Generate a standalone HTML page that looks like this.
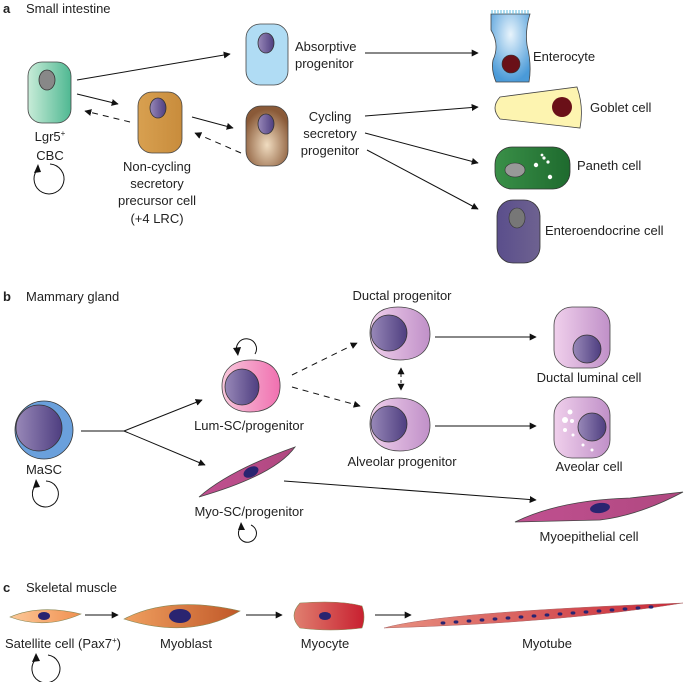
<!DOCTYPE html>
<html><head><meta charset="utf-8"><style>
html,body{margin:0;padding:0;background:#fff;}
svg{display:block;}
text{font-family:"Liberation Sans",sans-serif;font-size:13px;fill:#222;}
</style></head><body>
<svg width="685" height="682" viewBox="0 0 685 682" xmlns="http://www.w3.org/2000/svg">
<defs>
<marker id="ah" viewBox="0 0 10 10" refX="9" refY="5" markerWidth="7" markerHeight="7" orient="auto-start-reverse"><path d="M0,0 L10,5 L0,10 z" fill="#111"/></marker>
<linearGradient id="gGreen" x1="0" x2="1"><stop offset="0" stop-color="#c8ecd8"/><stop offset="1" stop-color="#4fb892"/></linearGradient>
<linearGradient id="gOrange" x1="0" x2="1"><stop offset="0" stop-color="#d8a050"/><stop offset="1" stop-color="#c88c3c"/></linearGradient>
<radialGradient id="gBrown" cx="0.5" cy="0.65" r="0.6"><stop offset="0" stop-color="#f0dcc0"/><stop offset="1" stop-color="#8a5a38"/></radialGradient>
<radialGradient id="gBlue" cx="0.5" cy="0.3" r="0.7"><stop offset="0" stop-color="#e8f4fc"/><stop offset="1" stop-color="#4a9ad8"/></radialGradient>
<linearGradient id="gPaneth" x1="0" x2="1"><stop offset="0" stop-color="#3a9048"/><stop offset="1" stop-color="#1e6a2e"/></linearGradient>
<linearGradient id="gEE" x1="0" x2="1"><stop offset="0" stop-color="#5a4e8c"/><stop offset="1" stop-color="#6e6290"/></linearGradient>
<linearGradient id="gNuc" x1="0" x2="1"><stop offset="0" stop-color="#9888b8"/><stop offset="1" stop-color="#4e3e80"/></linearGradient>
<linearGradient id="gPink" x1="0" x2="1"><stop offset="0" stop-color="#f8c8dc"/><stop offset="1" stop-color="#f070b0"/></linearGradient>
<linearGradient id="gLilac" x1="0" x2="1"><stop offset="0" stop-color="#f0d0ec"/><stop offset="1" stop-color="#c090c8"/></linearGradient>
<linearGradient id="gMyo" x1="0" x2="1"><stop offset="0" stop-color="#c05090"/><stop offset="1" stop-color="#b04880"/></linearGradient>
<linearGradient id="gSat" x1="0" x2="1"><stop offset="0" stop-color="#fcc898"/><stop offset="1" stop-color="#f09050"/></linearGradient>
<linearGradient id="gMb" x1="0" x2="1"><stop offset="0" stop-color="#f0a060"/><stop offset="1" stop-color="#c05828"/></linearGradient>
<linearGradient id="gMc" x1="0" x2="1"><stop offset="0" stop-color="#e08070"/><stop offset="1" stop-color="#c82030"/></linearGradient>
<linearGradient id="gMt" x1="0" x2="1"><stop offset="0" stop-color="#e89080"/><stop offset="1" stop-color="#c82838"/></linearGradient>
</defs>

<!-- a -->
<text x="3" y="13" style="font-weight:bold">a</text>
<text x="26" y="13">Small intestine</text>

<rect x="28" y="62" width="43" height="61" rx="14" fill="url(#gGreen)" stroke="#444" stroke-width="0.8"/>
<ellipse cx="47" cy="80" rx="8" ry="10" fill="#888" stroke="#333" stroke-width="0.8"/>
<text x="50" y="141" text-anchor="middle">Lgr5<tspan font-size="8" dy="-5">+</tspan></text>
<text x="50" y="160" text-anchor="middle">CBC</text>
<path d="M37,170 A15,15 0 1,0 50,164" fill="none" stroke="#111" stroke-width="1"/>
<path d="M34,173 L38,164 L41,172z" fill="#111"/>

<line x1="77" y1="80" x2="230" y2="54" stroke="#111" marker-end="url(#ah)"/>
<line x1="77" y1="94" x2="118" y2="104" stroke="#111" marker-end="url(#ah)"/>
<line x1="130" y1="122" x2="85" y2="111" stroke="#111" stroke-dasharray="6,5" marker-end="url(#ah)"/>

<rect x="138" y="92" width="44" height="61" rx="14" fill="url(#gOrange)" stroke="#444" stroke-width="0.8"/>
<ellipse cx="158" cy="108" rx="8" ry="10" fill="url(#gNuc)" stroke="#333" stroke-width="0.8"/>
<text x="157" y="171" text-anchor="middle">Non-cycling</text>
<text x="157" y="188" text-anchor="middle">secretory</text>
<text x="157" y="205" text-anchor="middle">precursor cell</text>
<text x="157" y="223" text-anchor="middle">(+4 LRC)</text>

<rect x="246" y="24" width="42" height="61" rx="14" fill="#b0dcf4" stroke="#444" stroke-width="0.8"/>
<ellipse cx="266" cy="43" rx="8" ry="10" fill="url(#gNuc)" stroke="#333" stroke-width="0.8"/>
<text x="295" y="51">Absorptive</text>
<text x="295" y="68">progenitor</text>

<line x1="192" y1="117" x2="233" y2="128" stroke="#111" marker-end="url(#ah)"/>
<line x1="241" y1="153" x2="195" y2="133" stroke="#111" stroke-dasharray="6,5" marker-end="url(#ah)"/>

<rect x="246" y="106" width="42" height="60" rx="15" fill="url(#gBrown)" stroke="#444" stroke-width="0.8"/>
<ellipse cx="266" cy="124" rx="8" ry="10" fill="url(#gNuc)" stroke="#333" stroke-width="0.8"/>
<text x="330" y="121" text-anchor="middle">Cycling</text>
<text x="330" y="138" text-anchor="middle">secretory</text>
<text x="330" y="155" text-anchor="middle">progenitor</text>

<line x1="365" y1="53" x2="478" y2="53" stroke="#111" marker-end="url(#ah)"/>
<line x1="365" y1="116" x2="478" y2="107" stroke="#111" marker-end="url(#ah)"/>
<line x1="365" y1="133" x2="478" y2="163" stroke="#111" marker-end="url(#ah)"/>
<line x1="367" y1="150" x2="478" y2="209" stroke="#111" marker-end="url(#ah)"/>

<!-- enterocyte -->
<path d="M491,14 L530,14 Q525,30 527,45 Q532,65 529,82 L496,82 Q491,70 493,60 Q500,45 491,30 Z" fill="url(#gBlue)" stroke="#444" stroke-width="0.8"/>
<path d="M492,14 v-4 M495,14 v-4 M498,14 v-4 M501,14 v-4 M504,14 v-4 M507,14 v-4 M510,14 v-4 M513,14 v-4 M516,14 v-4 M519,14 v-4 M522,14 v-4 M525,14 v-4 M528,14 v-4" stroke="#5ab8e0" stroke-width="1"/>
<circle cx="511" cy="64" r="9" fill="#6a1018" stroke="#333" stroke-width="0.6"/>
<text x="533" y="61">Enterocyte</text>

<path d="M500,97 L577,87 Q584,107 580,128 L500,119 Q490,108 500,97 Z" fill="#fdf4b0" stroke="#444" stroke-width="0.8"/>
<circle cx="562" cy="107" r="10" fill="#6a1018"/>
<text x="590" y="112">Goblet cell</text>

<rect x="495" y="147" width="75" height="42" rx="17" fill="url(#gPaneth)" stroke="#333" stroke-width="0.8"/>
<ellipse cx="515" cy="170" rx="10" ry="7" fill="#999" stroke="#333" stroke-width="0.6"/>
<circle cx="536" cy="165" r="2.2" fill="#fff"/><circle cx="544" cy="158" r="1.6" fill="#fff"/><circle cx="548" cy="162" r="1.6" fill="#fff"/><circle cx="550" cy="177" r="2.2" fill="#fff"/><circle cx="542" cy="155" r="1.4" fill="#fff"/>
<text x="577" y="170">Paneth cell</text>

<rect x="497" y="200" width="43" height="63" rx="16" fill="url(#gEE)" stroke="#333" stroke-width="0.8"/>
<ellipse cx="517" cy="218" rx="8" ry="10" fill="#777" stroke="#333" stroke-width="0.6"/>
<text x="545" y="235">Enteroendocrine cell</text>

<!-- b -->
<text x="3" y="301" style="font-weight:bold">b</text>
<text x="26" y="301">Mammary gland</text>

<circle cx="44" cy="430" r="29" fill="#6aa0dc" stroke="#333" stroke-width="0.8"/>
<circle cx="39" cy="428" r="23" fill="url(#gNuc)" stroke="#333" stroke-width="0.8"/>
<text x="44" y="474" text-anchor="middle">MaSC</text>
<path d="M36,485 A13,13 0 1,0 46,481" fill="none" stroke="#111"/>
<path d="M33,488 L36,479 L40,487z" fill="#111"/>

<polyline points="81,431 124,431 202,400" fill="none" stroke="#111" marker-end="url(#ah)"/>
<line x1="124" y1="431" x2="205" y2="465" stroke="#111" marker-end="url(#ah)"/>

<path d="M251,360 C272,360 281,372 280,388 C279,405 266,412 250,412 C232,412 222,402 222,386 C222,369 234,360 251,360 Z" fill="url(#gPink)" stroke="#444" stroke-width="0.8"/>
<ellipse cx="242" cy="387" rx="17" ry="18" fill="url(#gNuc)" stroke="#333" stroke-width="0.8"/>
<text x="249" y="430" text-anchor="middle">Lum-SC/progenitor</text>
<path d="M237,352 A10,10 0 1,1 255,354" fill="none" stroke="#111"/>
<path d="M233,348 L238,356 L241,347z" fill="#111"/>

<line x1="292" y1="375" x2="357" y2="343" stroke="#111" stroke-dasharray="6,5" marker-end="url(#ah)"/>
<line x1="292" y1="387" x2="360" y2="406" stroke="#111" stroke-dasharray="6,5" marker-end="url(#ah)"/>

<path d="M398,307 C418,307 430,318 430,334 C430,351 418,360 400,360 C382,360 370,350 370,333 C370,316 380,307 398,307 Z" fill="url(#gLilac)" stroke="#444" stroke-width="0.8"/>
<ellipse cx="389" cy="333" rx="18" ry="18" fill="url(#gNuc)" stroke="#333" stroke-width="0.8"/>
<text x="402" y="300" text-anchor="middle">Ductal progenitor</text>

<line x1="401" y1="368" x2="401" y2="390" stroke="#111" stroke-dasharray="3,3" marker-end="url(#ah)" marker-start="url(#ah)"/>

<path d="M398,398 C418,398 430,409 430,425 C430,442 418,451 400,451 C382,451 370,441 370,424 C370,407 380,398 398,398 Z" fill="url(#gLilac)" stroke="#444" stroke-width="0.8"/>
<ellipse cx="389" cy="424" rx="18" ry="18" fill="url(#gNuc)" stroke="#333" stroke-width="0.8"/>
<text x="402" y="466" text-anchor="middle">Alveolar progenitor</text>

<line x1="435" y1="337" x2="536" y2="337" stroke="#111" marker-end="url(#ah)"/>
<line x1="435" y1="426" x2="536" y2="426" stroke="#111" marker-end="url(#ah)"/>

<rect x="554" y="307" width="56" height="61" rx="18" fill="url(#gLilac)" stroke="#444" stroke-width="0.8"/>
<ellipse cx="587" cy="349" rx="14" ry="14" fill="url(#gNuc)" stroke="#333" stroke-width="0.8"/>
<text x="589" y="382" text-anchor="middle">Ductal luminal cell</text>

<rect x="554" y="397" width="56" height="61" rx="18" fill="url(#gLilac)" stroke="#444" stroke-width="0.8"/>
<ellipse cx="592" cy="427" rx="14" ry="14" fill="url(#gNuc)" stroke="#333" stroke-width="0.8"/>
<circle cx="570" cy="412" r="2.5" fill="#fff"/><circle cx="565" cy="420" r="3" fill="#fff"/><circle cx="572" cy="421" r="2" fill="#fff"/><circle cx="565" cy="430" r="2" fill="#fff"/><circle cx="573" cy="435" r="1.5" fill="#fff"/><circle cx="583" cy="445" r="1.5" fill="#fff"/><circle cx="592" cy="450" r="1.5" fill="#fff"/>
<text x="589" y="471" text-anchor="middle">Aveolar cell</text>

<path d="M199,497 Q230,470 295,447 Q275,475 199,497 Z" fill="url(#gMyo)" stroke="#444" stroke-width="0.8"/>
<ellipse cx="251" cy="472" rx="8" ry="5" transform="rotate(-28 251 472)" fill="#2a2470"/>
<text x="249" y="516" text-anchor="middle">Myo-SC/progenitor</text>
<path d="M241,527 A9,9 0 1,0 251,525" fill="none" stroke="#111"/>
<path d="M238,530 L241,522 L245,530z" fill="#111"/>

<line x1="284" y1="481" x2="536" y2="500" stroke="#111" marker-end="url(#ah)"/>

<path d="M515,522 Q560,500 630,498 L683,492 Q640,515 600,520 Z" fill="url(#gMyo)" stroke="#444" stroke-width="0.8"/>
<ellipse cx="600" cy="508" rx="10" ry="5" transform="rotate(-8 600 508)" fill="#2a2470"/>
<text x="589" y="541" text-anchor="middle">Myoepithelial cell</text>

<!-- c -->
<text x="3" y="592" style="font-weight:bold">c</text>
<text x="26" y="592">Skeletal muscle</text>

<path d="M10,617 Q40,604 81,614 Q45,630 10,617 Z" fill="url(#gSat)" stroke="#885" stroke-width="0.6"/>
<ellipse cx="44" cy="616" rx="6" ry="4" fill="#2a2470"/>
<line x1="85" y1="615" x2="118" y2="615" stroke="#111" marker-end="url(#ah)"/>
<path d="M124,619 Q170,595 240,611 Q190,640 124,619 Z" fill="url(#gMb)" stroke="#885" stroke-width="0.6"/>
<ellipse cx="180" cy="616" rx="11" ry="7" fill="#2a2470"/>
<line x1="246" y1="615" x2="282" y2="615" stroke="#111" marker-end="url(#ah)"/>
<path d="M300,603 Q340,600 362,606 Q366,617 362,628 Q330,632 300,628 Q288,616 300,603 Z" fill="url(#gMc)" stroke="#885" stroke-width="0.6"/>
<ellipse cx="325" cy="616" rx="6" ry="4" fill="#2a2470"/>
<line x1="375" y1="615" x2="411" y2="615" stroke="#111" marker-end="url(#ah)"/>
<path d="M384,628 Q440,612 683,603 Q560,623 384,628 Z" fill="url(#gMt)" stroke="#a66" stroke-width="0.5"/>
<g fill="#2a2470">
<ellipse cx="443" cy="623" rx="2.4" ry="1.6"/><ellipse cx="456" cy="622" rx="2.4" ry="1.6"/><ellipse cx="469" cy="621" rx="2.4" ry="1.6"/><ellipse cx="482" cy="620" rx="2.4" ry="1.6"/><ellipse cx="495" cy="619" rx="2.4" ry="1.6"/><ellipse cx="508" cy="618" rx="2.4" ry="1.6"/><ellipse cx="521" cy="617" rx="2.4" ry="1.6"/><ellipse cx="534" cy="616" rx="2.4" ry="1.6"/><ellipse cx="547" cy="615" rx="2.4" ry="1.6"/><ellipse cx="560" cy="614" rx="2.4" ry="1.6"/><ellipse cx="573" cy="613" rx="2.4" ry="1.6"/><ellipse cx="586" cy="612" rx="2.4" ry="1.6"/><ellipse cx="599" cy="611" rx="2.4" ry="1.6"/><ellipse cx="612" cy="610" rx="2.4" ry="1.6"/><ellipse cx="625" cy="609" rx="2.4" ry="1.6"/><ellipse cx="638" cy="608" rx="2.4" ry="1.6"/><ellipse cx="651" cy="607" rx="2.4" ry="1.6"/>
</g>
<text x="63" y="648" text-anchor="middle">Satellite cell (Pax7<tspan font-size="8" dy="-5">+</tspan><tspan dy="5">)</tspan></text>
<text x="186" y="648" text-anchor="middle">Myoblast</text>
<text x="325" y="648" text-anchor="middle">Myocyte</text>
<text x="547" y="648" text-anchor="middle">Myotube</text>
<path d="M36,659 A14,14 0 1,0 48,655" fill="none" stroke="#111"/>
<path d="M32,662 L36,653 L40,661z" fill="#111"/>
</svg>
</body></html>
